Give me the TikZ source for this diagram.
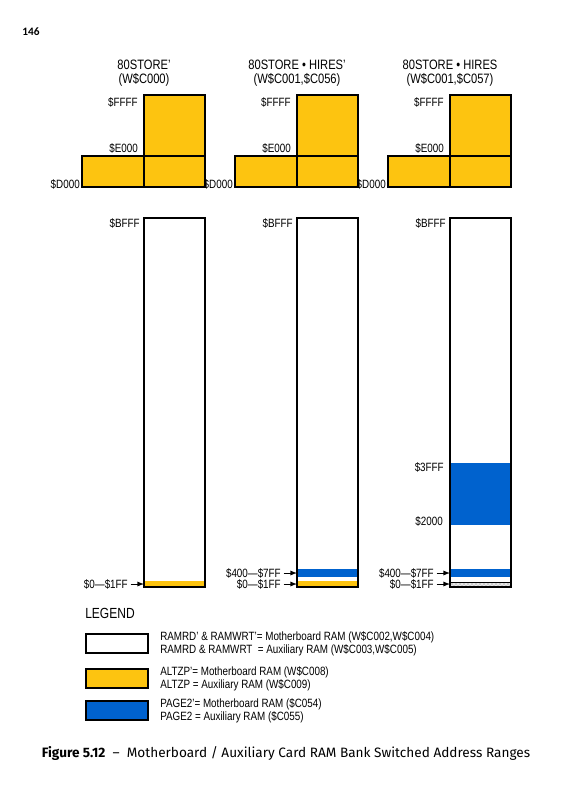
\documentclass[tikz,border=0pt]{standalone}
\usepackage{fontspec}
\setmainfont{Liberation Sans}
\newfontfamily\narrowfont[FakeStretch=0.82]{Liberation Sans}
\newfontfamily\capfont{Fira Sans}
\newfontfamily\pagefont{Carlito}
\usepackage{tikz}
\usetikzlibrary{arrows}
\usetikzlibrary{patterns}
\definecolor{ramyellow}{RGB}{253,196,16}
\definecolor{ramblue}{RGB}{0,98,206}

\begin{document}
\begin{tikzpicture}[x=0.75pt,y=-0.75pt,
	bank/.style={draw=black,line width=1.1pt},
	addr/.style={font=\narrowfont\fontsize{9}{9}\selectfont,inner sep=0pt},
	headline/.style={font=\narrowfont\fontsize{10.2}{10.5}\selectfont,align=center,inner sep=0pt},
	keytext/.style={font=\narrowfont\fontsize{9}{8.4}\selectfont,align=left,inner sep=0pt,anchor=west},
	pointer/.style={-latex,line width=0.7pt,shorten <=2pt}]
	\useasboundingbox (0,0) rectangle (568,800);
	
	\node[font=\pagefont\bfseries\fontsize{8.5}{8.5}\selectfont,inner sep=0pt] (page) at (31,32) {146};
	
	% three columns
	\foreach \i/\top in {0/{80STORE’\\(W\$C000)},1/{80STORE • HIRES’\\(W\$C001,\$C056)},2/{80STORE • HIRES\\(W\$C001,\$C057)}} {
		\pgfmathsetmacro{\L}{82+153*\i}
		\pgfmathsetmacro{\M}{144+153*\i}
		\pgfmathsetmacro{\R}{205+153*\i}
		\node[headline] (head\i) at (\M,73) {\top};
		% bank switched area
		\fill[ramyellow] (\M,95) rectangle (\R,187);
		\fill[ramyellow] (\L,156) rectangle (\M,187);
		\draw[bank] (\L,156) -- (\M,156) -- (\M,95) -- (\R,95) -- (\R,187) -- (\L,187) -- cycle;
		\draw[bank] (\M,156) -- (\R,156) (\M,156) -- (\M,187);
		\node[addr,anchor=east] (ffff\i) at (\M-6,102) {\$FFFF};
		\node[addr,anchor=east] (e000\i) at (\M-6,148) {\$E000};
		\node[addr,anchor=east] (d000\i) at (\L-2,184) {\$D000};
		% main ram
		\node[addr,anchor=east] (bfff\i) at (\M-4,223) {\$BFFF};
	}
	
	% low strips
	\fill[ramyellow] (144,581) rectangle (205,587);
	\fill[ramyellow] (297,581) rectangle (358,587);
	\fill[ramblue] (297,569) rectangle (358,577);
	\fill[ramblue] (450,569) rectangle (511,577);
	\fill[gray!20] (450,582) rectangle (511,587);
	\fill[pattern=crosshatch dots,pattern color=gray] (450,582) rectangle (511,587);
	\fill[ramblue] (450,463) rectangle (511,525);
	
	\foreach \i in {0,1,2} {
		\pgfmathsetmacro{\M}{144+153*\i}
		\pgfmathsetmacro{\R}{205+153*\i}
		\draw[bank] (\M,218) rectangle (\R,587);
	}
	\draw[line width=0.5pt] (450,582) -- (511,582);
	
	\node[addr,anchor=east] (hires3fff) at (444,467) {\$3FFF};
	\node[addr,anchor=east] (hires2000) at (443,521) {\$2000};
	
	\node[addr,anchor=east] (zp0) at (128,584) {\$0—\$1FF};
	\node[addr,anchor=east] (txt1) at (281,573) {\$400—\$7FF};
	\node[addr,anchor=east] (zp1) at (281,584) {\$0—\$1FF};
	\node[addr,anchor=east] (txt2) at (434,573) {\$400—\$7FF};
	\node[addr,anchor=east] (zp2) at (434,584) {\$0—\$1FF};
	\coordinate (m0) at (144,584);
	\coordinate (m1a) at (297,573);
	\coordinate (m1b) at (297,584);
	\coordinate (m2a) at (450,573);
	\coordinate (m2b) at (450,584);
	\draw[pointer] (zp0) -- (m0);
	\draw[pointer] (txt1) -- (m1a);
	\draw[pointer] (zp1) -- (m1b);
	\draw[pointer] (txt2) -- (m2a);
	\draw[pointer] (zp2) -- (m2b);
	
	% legend
	\node[font=\narrowfont\fontsize{11}{11}\selectfont,inner sep=0pt,anchor=west] (legend) at (85,613) {LEGEND};
	\draw[bank,fill=white] (86,634) rectangle (148,653);
	\draw[bank,fill=ramyellow] (86,669) rectangle (148,688);
	\draw[bank,fill=ramblue] (86,701) rectangle (148,720);
	\node[keytext] (keyram) at (160,644) {RAMRD’ \& RAMWRT’= Motherboard RAM (W\$C002,W\$C004)\\RAMRD \& RAMWRT\ \ = Auxiliary RAM (W\$C003,W\$C005)};
	\node[keytext] (keyzp) at (160,679) {ALTZP’= Motherboard RAM (W\$C008)\\ALTZP = Auxiliary RAM (W\$C009)};
	\node[keytext] (keypage) at (160,711) {PAGE2’= Motherboard RAM (\$C054)\\PAGE2 = Auxiliary RAM (\$C055)};
	
	\node[font=\capfont\fontsize{10.2}{10.2}\selectfont,inner sep=0pt] (caption) at (286,753) {\textbf{Figure 5.12}\ \ –\ \ Motherboard / Auxiliary Card RAM Bank Switched Address Ranges};
\end{tikzpicture}
\end{document}
